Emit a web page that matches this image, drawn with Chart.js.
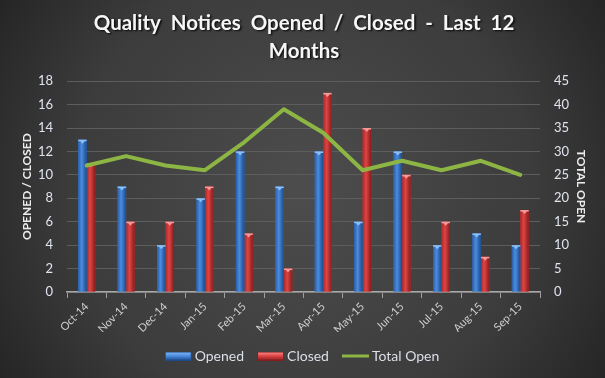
<!DOCTYPE html>
<html><head><meta charset="utf-8">
<script src="https://cdn.jsdelivr.net/npm/chart.js@4.4.0/dist/chart.umd.min.js"></script>
<style>html,body{margin:0;padding:0;background:#3a3a3a;}canvas{display:block}</style>
</head><body>
<canvas id="c" width="605" height="378"></canvas>
<script>
const categories = ['Oct-14','Nov-14','Dec-14','Jan-15','Feb-15','Mar-15','Apr-15','May-15','Jun-15','Jul-15','Aug-15','Sep-15'];
const opened = [13, 9, 4, 8, 12, 9, 12, 6, 12, 4, 5, 4];
const closed = [11, 6, 6, 9, 5, 2, 17, 14, 10, 6, 3, 7];
const totalOpen = [27, 29, 27, 26, 32, 39, 34, 26, 28, 26, 28, 25];
const leftTicks = [0, 2, 4, 6, 8, 10, 12, 14, 16, 18];
const rightTicks = [0, 5, 10, 15, 20, 25, 30, 35, 40, 45];
const titleLines = ['Quality  Notices  Opened  /  Closed  -  Last  12', 'Months'];

const FONT = 'Lato, "Open Sans", sans-serif';

function legendImg(kind, c) {
  const cv = document.createElement('canvas');
  cv.width = 27; cv.height = 9;
  const x = cv.getContext('2d');
  if (kind === 'line') {
    x.fillStyle = c[0]; x.fillRect(0, 3, 27, 3);
  } else {
    const g = x.createLinearGradient(0, 0, 0, 9);
    g.addColorStop(0, c[3]); g.addColorStop(0.5, c[1]); g.addColorStop(1, c[2]);
    x.fillStyle = g; x.fillRect(0, 0, 27, 9);
    x.strokeStyle = c[2]; x.lineWidth = 1; x.strokeRect(0.5, 0.5, 26, 8);
  }
  return cv;
}

const blueShade = ['#2a5ea6', '#4a8ce0', '#1c4a8a', '#8fc0f5'];
const redShade = ['#a82828', '#e04444', '#861c1c', '#f59a9a'];
const greenShade = ['#8db544'];

const bgPlugin = {
  id: 'bg',
  beforeDraw(chart) {
    const ctx = chart.ctx, w = chart.width, h = chart.height;
    const g = ctx.createRadialGradient(w * 0.5, h * 0.5, 10, w * 0.5, h * 0.5, w * 0.62);
    g.addColorStop(0, '#4c4c4c');
    g.addColorStop(0.6, '#3c3c3c');
    g.addColorStop(1, '#222222');
    ctx.save(); ctx.fillStyle = g; ctx.fillRect(0, 0, w, h); ctx.restore();
  }
};

const titleShadow = {
  id: 'titleShadow',
  afterLayout(chart) {
    const tb = chart.titleBlock;
    if (tb && !tb._shadowWrapped) {
      const orig = tb.draw.bind(tb);
      tb.draw = function () {
        const c = this.ctx;
        c.save();
        c.shadowColor = 'rgba(0,0,0,0.85)';
        c.shadowOffsetX = 1.5; c.shadowOffsetY = 1.5; c.shadowBlur = 2;
        orig();
        c.restore();
      };
      tb._shadowWrapped = true;
    }
  }
};

const barShade = {
  id: 'barShade',
  afterDatasetDraw(chart, args) {
    const meta = args.meta;
    if (meta.type !== 'bar') return;
    const cols = chart.data.datasets[args.index].shade;
    const ctx = chart.ctx;
    ctx.save();
    meta.data.forEach(el => {
      const p = el.getProps(['x', 'y', 'base', 'width'], true);
      const l = p.x - p.width / 2;
      const g = ctx.createLinearGradient(l, 0, l + p.width, 0);
      g.addColorStop(0, cols[0]); g.addColorStop(0.4, cols[1]); g.addColorStop(1, cols[2]);
      ctx.fillStyle = g;
      ctx.fillRect(l, p.y, p.width, p.base - p.y);
      ctx.fillStyle = cols[3];
      ctx.fillRect(l, p.y, p.width, 1.5);
      ctx.beginPath();
      ctx.moveTo(p.x - 2.5, p.y + 1); ctx.lineTo(p.x + 2.5, p.y + 1); ctx.lineTo(p.x, p.y + 4);
      ctx.closePath(); ctx.fill();
    });
    ctx.restore();
  }
};

const imgs = [legendImg('bar', blueShade), legendImg('bar', redShade), legendImg('line', greenShade)];

new Chart(document.getElementById('c'), {
  data: {
    labels: categories,
    datasets: [
      { type: 'bar', label: 'Opened', data: opened, backgroundColor: '#3f7fcf', shade: blueShade, yAxisID: 'y', order: 1, barPercentage: 1, categoryPercentage: 0.43 },
      { type: 'bar', label: 'Closed', data: closed, backgroundColor: '#d23b3b', shade: redShade, yAxisID: 'y', order: 1, barPercentage: 1, categoryPercentage: 0.43 },
      { type: 'line', label: 'Total Open', data: totalOpen, borderColor: '#8db544', borderWidth: 4, pointRadius: 0, tension: 0, yAxisID: 'y1', order: 0, borderJoinStyle: 'round', borderCapStyle: 'round' }
    ]
  },
  options: {
    responsive: false,
    animation: false,
    layout: { padding: { left: 18, right: 15, top: 0, bottom: 5 } },
    plugins: {
      tooltip: { enabled: false },
      title: {
        display: true, text: titleLines, color: '#f6f6f6',
        font: { family: FONT, size: 20.5, weight: 'bold', lineHeight: 1.37 },
        padding: { top: 9, bottom: 16 }
      },
      legend: {
        position: 'bottom',
        labels: {
          usePointStyle: true, pointStyleWidth: 19, boxHeight: 9, padding: 17,
          color: '#dadfe8', font: { family: FONT, size: 14 },
          generateLabels(chart) {
            const items = Chart.defaults.plugins.legend.labels.generateLabels(chart);
            items.sort((a, b) => a.datasetIndex - b.datasetIndex);
            items.forEach(it => { it.pointStyle = imgs[it.datasetIndex]; });
            return items;
          }
        }
      }
    },
    scales: {
      x: {
        afterFit(s) { s.height = 40; },
        grid: { display: true, drawOnChartArea: false, drawTicks: true, tickLength: 6, color: '#a0a0a0', offset: true },
        border: { color: '#a8a8a8', width: 1.5 },
        ticks: { color: '#cfcfcf', font: { family: FONT, size: 11 }, maxRotation: 45, minRotation: 45, autoSkip: false, padding: 2 }
      },
      y: {
        position: 'left', min: 0, max: 18,
        afterBuildTicks(s) { s.ticks = leftTicks.map(v => ({ value: v })); },
        afterFit(s) { s.width = 49; },
        ticks: { color: '#dfe4ee', font: { family: FONT, size: 13 }, padding: 14 },
        grid: { color: '#5d5d5d', drawTicks: false, lineWidth: 1 },
        border: { display: false },
        title: { display: true, text: 'OPENED / CLOSED', color: '#ececec', font: { family: FONT, size: 12, weight: 'bold' }, padding: 2 }
      },
      y1: {
        position: 'right', min: 0, max: 45,
        afterBuildTicks(s) { s.ticks = rightTicks.map(v => ({ value: v })); },
        afterFit(s) { s.width = 50; },
        ticks: { color: '#dfe4ee', font: { family: FONT, size: 13 }, padding: 14 },
        grid: { drawOnChartArea: false, drawTicks: false },
        border: { display: false },
        title: { display: true, text: 'TOTAL OPEN', color: '#ececec', font: { family: FONT, size: 12, weight: 'bold' }, padding: 2 }
      }
    }
  },
  plugins: [bgPlugin, titleShadow, barShade]
});
</script>
</body></html>
